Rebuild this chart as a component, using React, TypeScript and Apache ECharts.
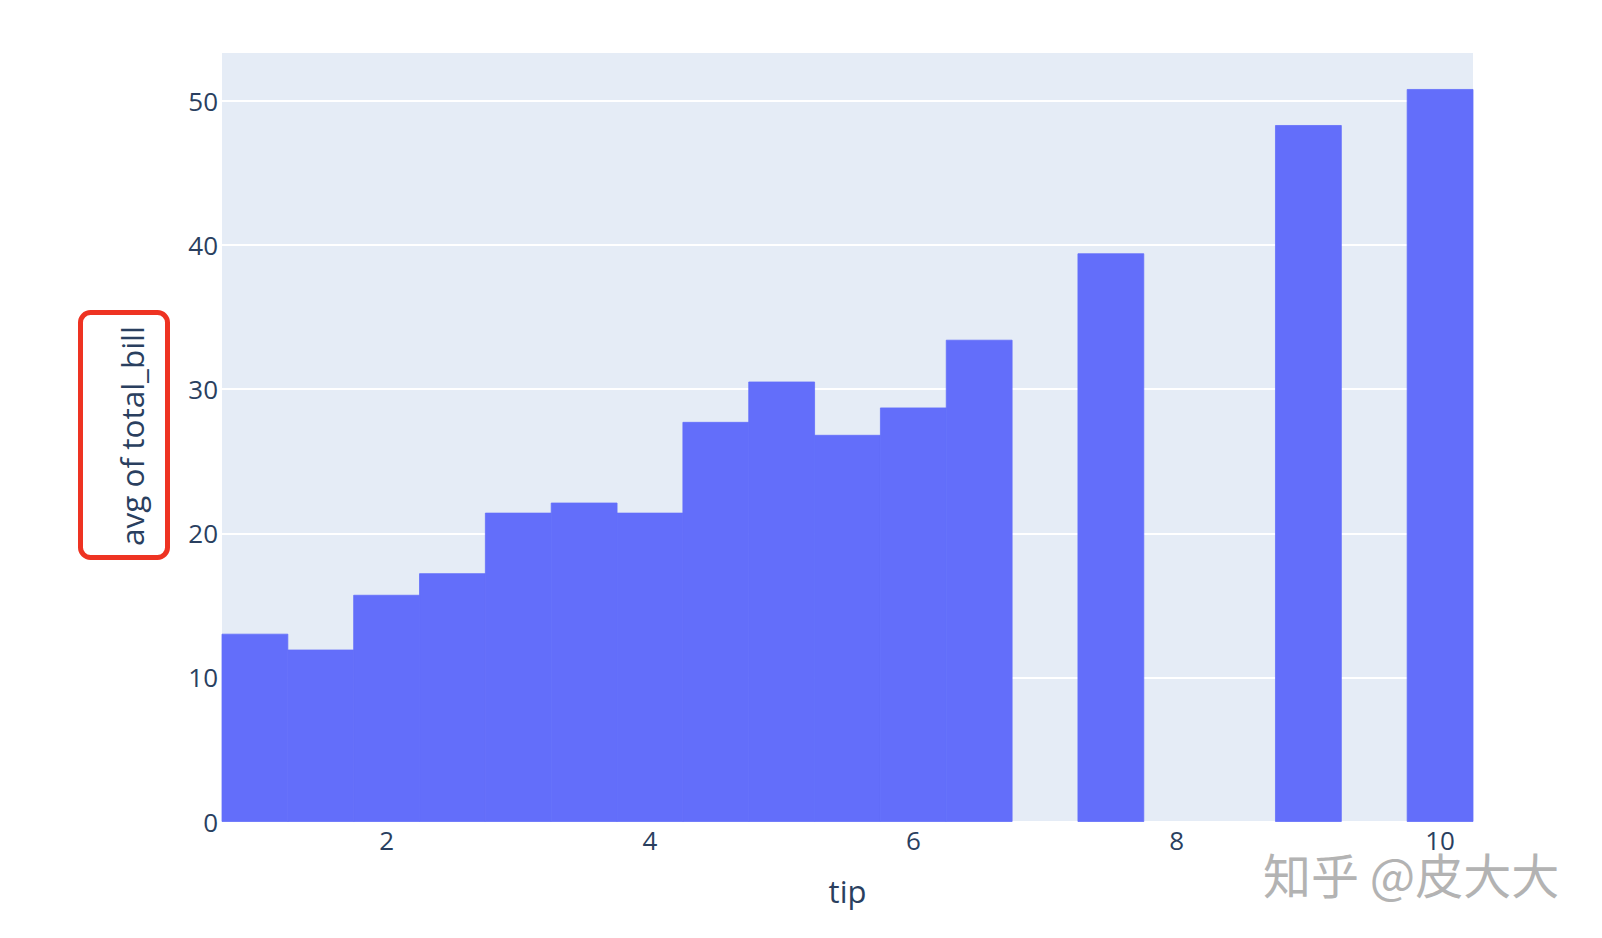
import React, { useEffect, useRef } from "react";
import * as echarts from "echarts";

// Histogram bins of tip (bin width 0.5) and the average total_bill in each bin
const binStart = [0.75, 1.25, 1.75, 2.25, 2.75, 3.25, 3.75, 4.25, 4.75, 5.25, 5.75, 6.25, 7.25, 8.75, 9.75];
const binEnd = [1.25, 1.75, 2.25, 2.75, 3.25, 3.75, 4.25, 4.75, 5.25, 5.75, 6.25, 6.75, 7.75, 9.25, 10.25];
const avgTotalBill = [13.0, 11.9, 15.7, 17.2, 21.4, 22.1, 21.4, 27.7, 30.5, 26.8, 28.7, 33.4, 39.4, 48.3, 50.8];

const xTicks = [2, 4, 6, 8, 10];
const xRange = [0.75, 10.25];
const yRange = [0, 53.4];
const xTitle = "tip";
const yTitle = "avg of total_bill";
const watermark = "知乎 @皮大大";

const FONT = '"Open Sans", verdana, arial, sans-serif';
const TEXT = "#2a3f5f";
const BAR = "#636efa";

export default function App() {
  const ref = useRef<HTMLDivElement>(null);
  useEffect(() => {
    if (!ref.current) return;
    const chart = echarts.init(ref.current, undefined, { renderer: "svg" });
    const data = binStart.map((s, i) => [s, binEnd[i], avgTotalBill[i]]);
    chart.setOption({
      animation: false,
      backgroundColor: "#ffffff",
      grid: {
        left: 222,
        right: 129,
        top: 52,
        bottom: 116.5,
        show: true,
        backgroundColor: "#e5ecf6",
        borderWidth: 0,
      },
      xAxis: {
        type: "value",
        min: xRange[0],
        max: xRange[1],
        name: xTitle,
        nameLocation: "middle",
        nameGap: 54,
        nameTextStyle: { fontFamily: FONT, fontSize: 31, color: TEXT },
        axisLine: { show: false },
        axisTick: { show: false },
        splitLine: { show: false },
        axisLabel: {
          customValues: xTicks,
          fontFamily: FONT,
          fontSize: 26,
          color: TEXT,
          margin: 5,
        },
      },
      yAxis: {
        type: "value",
        min: yRange[0],
        max: yRange[1],
        interval: 10,
        axisLine: { show: false },
        axisTick: { show: false },
        splitLine: { show: true, lineStyle: { color: "#ffffff", width: 2 } },
        axisLabel: {
          fontFamily: FONT,
          fontSize: 26,
          color: TEXT,
          margin: 4,
          showMaxLabel: false,
        },
      },
      series: [
        {
          type: "custom",
          data,
          encode: { x: [0, 1], y: 2 },
          renderItem: (params: any, api: any) => {
            const p0 = api.coord([api.value(0), api.value(2)]);
            const p1 = api.coord([api.value(1), 0]);
            return {
              type: "rect",
              shape: { x: p0[0], y: p0[1], width: p1[0] - p0[0], height: p1[1] - p0[1] },
              style: { fill: BAR, stroke: BAR, lineWidth: 0.8 },
            };
          },
        },
      ],
      graphic: [
        {
          type: "text",
          x: 131,
          y: 436,
          rotation: Math.PI / 2,
          style: {
            text: yTitle,
            fontFamily: FONT,
            fontSize: 31.5,
            fill: TEXT,
            textAlign: "center",
            textVerticalAlign: "middle",
          },
        },
        {
          type: "rect",
          shape: { x: 80.5, y: 312.5, width: 87, height: 245, r: 10 },
          style: { fill: "none", stroke: "#ee3322", lineWidth: 5 },
        },
        {
          type: "text",
          x: 1263,
          y: 873,
          style: {
            text: watermark,
            fontFamily: '"Noto Sans CJK SC", sans-serif',
            fontSize: 48,
            fill: "#b3b3b3",
            textAlign: "left",
            textVerticalAlign: "middle",
          },
        },
      ],
    });
    return () => chart.dispose();
  }, []);
  return (
    <div
      ref={ref}
      style={{ position: "fixed", left: 0, top: 0, width: 1602, height: 938 }}
    />
  );
}
